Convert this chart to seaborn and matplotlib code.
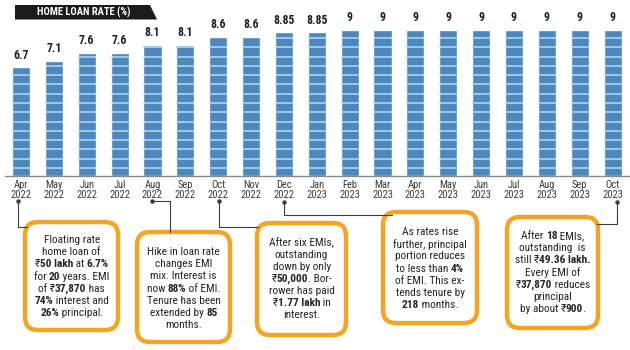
import matplotlib
matplotlib.use("Agg")
import matplotlib.pyplot as plt
from matplotlib import font_manager
from matplotlib.patches import FancyBboxPatch, Polygon
import seaborn as sns
import pandas as pd

# ---------------- data ----------------
months = ["Apr", "May", "Jun", "Jul", "Aug", "Sep", "Oct", "Nov", "Dec", "Jan",
          "Feb", "Mar", "Apr", "May", "Jun", "Jul", "Aug", "Sep", "Oct"]
years = ["2022"] * 9 + ["2023"] * 10
rates = [6.7, 7.1, 7.6, 7.6, 8.1, 8.1, 8.6, 8.6, 8.85, 8.85,
         9, 9, 9, 9, 9, 9, 9, 9, 9]
title = "HOME LOAN RATE (%)"

notes = [
    ["Floating rate", "home loan of", "₹**50 lakh** at **6.7%**", "for **20** years. EMI",
     "of ₹**37,870** has", "**74%** interest and", "**26%** principal."],
    ["Hike in loan rate", "changes EMI", "mix. Interest is", "now **88%** of EMI.",
     "Tenure has been", "extended by **85**", "months."],
    ["After six EMIs,", "outstanding", "down by only", "₹**50,000**. Bor-",
     "rower has paid", "₹**1.77 lakh** in", "interest."],
    ["As rates rise", "further, principal", "portion reduces", "to less than **4%**",
     "of EMI. This ex-", "tends tenure by", "**218** months."],
    ["After **18** EMIs,", "outstanding  is", "still ₹**49.36 lakh.**", "Every EMI of",
     "₹**37,870** reduces", "principal", "by about ₹**900**."],
]

# ---------------- fonts ----------------
avail = {f.name for f in font_manager.fontManager.ttflist}
base = next((f for f in ["Liberation Sans Narrow", "Roboto Condensed", "Open Sans Condensed",
                         "Liberation Sans"] if f in avail), "DejaVu Sans")
FAM = [base, "DejaVu Sans"]

sns.set_theme(style="white")
plt.rcParams["font.family"] = FAM

W, H = 630, 350
fig = plt.figure(figsize=(W / 100, H / 100), dpi=100)
fig.patch.set_facecolor("white")

# ---------------- bars ----------------
bar_color = "#4c88bd"
stripe_color = "#b3dcf6"
ax = fig.add_axes([4.6 / W, (H - 176) / H, 624.4 / W, 162.2 / H])
df = pd.DataFrame({"m": [f"{m}\n{y}" for m, y in zip(months, years)], "r": rates})
df["i"] = range(len(df))
sns.barplot(data=df, x="i", y="r", color=bar_color, saturation=1, width=0.55, ax=ax)
ax.set_xlim(-0.5, 18.5)
ax.set_ylim(0, 10)

for p in ax.patches:
    x0 = p.get_x()
    x1 = x0 + p.get_width()
    h = p.get_height()
    k = 0
    while True:
        yv = 0.49 + k * 0.573
        if yv > h - 0.12:
            break
        ax.plot([x0, x1], [yv, yv], color=stripe_color, lw=1.1, solid_capstyle="butt")
        k += 1

ax.bar_label(ax.containers[0], labels=[f"{v:g}" for v in rates], padding=4,
             fontsize=8.5, fontweight="bold", color="#1e1e1e")
ax.set_xticks(range(len(df)))
ax.set_xticklabels(df["m"], fontsize=7.6, color="#3a3a3a", linespacing=0.95)
ax.tick_params(axis="x", length=0, pad=3)
ax.set_yticks([])
ax.set_xlabel("")
ax.set_ylabel("")
for s in ["top", "right", "left"]:
    ax.spines[s].set_visible(False)
ax.spines["bottom"].set_color("#8a8a8a")
ax.spines["bottom"].set_linewidth(1.0)
ax.patch.set_alpha(0)

# ---------------- overlay (pixel coords) ----------------
ov = fig.add_axes([0, 0, 1, 1])
ov.set_xlim(0, W)
ov.set_ylim(H, 0)
ov.axis("off")
ov.patch.set_alpha(0)

# title banner
ov.add_patch(Polygon([(15, 5), (150, 5), (157, 19.5), (15, 19.5)], closed=True,
                     fc="#1b1b1b", ec="none"))
ov.text(84, 12.5, title, color="white", fontsize=7.6, fontweight="bold",
        ha="center", va="center")

# connectors
lc = "#3c3c3c"
conns = [
    [(18, 201), (18, 227), (27, 227)],
    [(152, 201), (170, 201), (170, 232)],
    [(219, 201), (219, 227), (258, 227)],
    [(284, 202), (284, 215), (392, 215)],
    [(617, 202), (617, 224), (597, 224)],
]
for pts in conns:
    xs = [p[0] for p in pts]
    ys = [p[1] for p in pts]
    ov.plot(xs, ys, color=lc, lw=0.8)
    ov.plot(xs[0], ys[0], "o", color=lc, ms=2.2)

# boxes
boxes = [(25, 222, 118, 330, 240, 12.2),
         (137, 232, 230, 342, 252, 12.2),
         (257, 223, 346, 335, 243, 12.0),
         (383, 212, 477, 323, 232, 12.2),
         (507, 217, 598, 328, 236, 12.2)]
orange = "#f6a424"
renderer = fig.canvas.get_renderer()
FS = 8.2

def seg_width(txt, bold):
    t = ov.text(0, 0, txt, fontsize=FS, fontweight="bold" if bold else "normal")
    w = t.get_window_extent(renderer).width
    t.remove()
    return w - 0.3

for (x0, y0, x1, y1, fy, sp), lines in zip(boxes, notes):
    ov.add_patch(FancyBboxPatch((x0, y0), x1 - x0, y1 - y0,
                                boxstyle="round,pad=0,rounding_size=13",
                                fc="white", ec=orange, lw=3.2))
    cx = (x0 + x1) / 2
    for i, line in enumerate(lines):
        parts = line.split("**")
        segs = [(s, j % 2 == 1) for j, s in enumerate(parts) if s]
        widths = [seg_width(s, b) for s, b in segs]
        x = cx - sum(widths) / 2
        yy = fy + i * sp
        for (s, b), w in zip(segs, widths):
            ov.text(x, yy, s, fontsize=FS, fontweight="bold" if b else "normal",
                    color="#262626", ha="left", va="center")
            x += w

fig.savefig("out.png", dpi=100, facecolor="white")
